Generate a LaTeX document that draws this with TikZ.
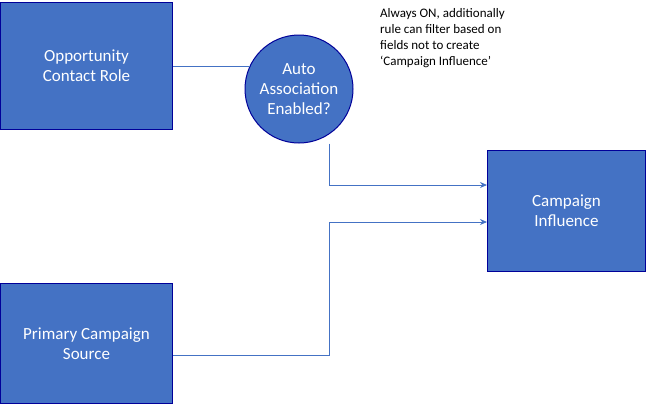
\documentclass[tikz,border=0pt]{standalone}
\usepackage{fontspec}
\setmainfont{Carlito}
\usetikzlibrary{arrows.meta}
\begin{document}
\begin{tikzpicture}[x=1pt,y=-1pt,
  blk/.style={draw=blue!60!black,line width=1pt,fill={rgb,255:red,68;green,114;blue,196},text=white,font=\fontsize{17}{20}\selectfont,align=center},
  conn/.style={draw={rgb,255:red,68;green,114;blue,196},line width=0.8pt},
  arr/.style={conn,-{Stealth[length=7pt,width=6pt]}}]
\useasboundingbox (0,0) rectangle (656,408);
\node[blk,minimum width=172pt,minimum height=127pt,anchor=north west] (ocr) at (0,2) {Opportunity\\Contact Role};
\node[blk,circle,minimum size=108pt,inner sep=0pt] (auto) at (299,89) {Auto\\Association\\Enabled?};
\node[blk,minimum width=158pt,minimum height=121pt,anchor=north west] (ci) at (487,150) {Campaign\\Influence};
\node[blk,minimum width=172pt,minimum height=120pt,anchor=north west] (pcs) at (0,283) {Primary Campaign\\Source};
\node[anchor=north west,align=left,font=\fontsize{13}{16}\selectfont,inner sep=0pt] (note) at (380,8) {Always ON, additionally\\rule can filter based on\\fields not to create\\‘Campaign Influence’};
\coordinate (a1) at (329,185);
\coordinate (a2) at (329,222);
\draw[conn] (ocr.east |- 0,66) -- (250,66);
\draw[arr] (auto.south -| a1) -- (a1) -- (ci.west |- a1);
\draw[arr] (pcs.east |- 0,355) -| (a2) -- (ci.west |- a2);
\end{tikzpicture}
\end{document}
